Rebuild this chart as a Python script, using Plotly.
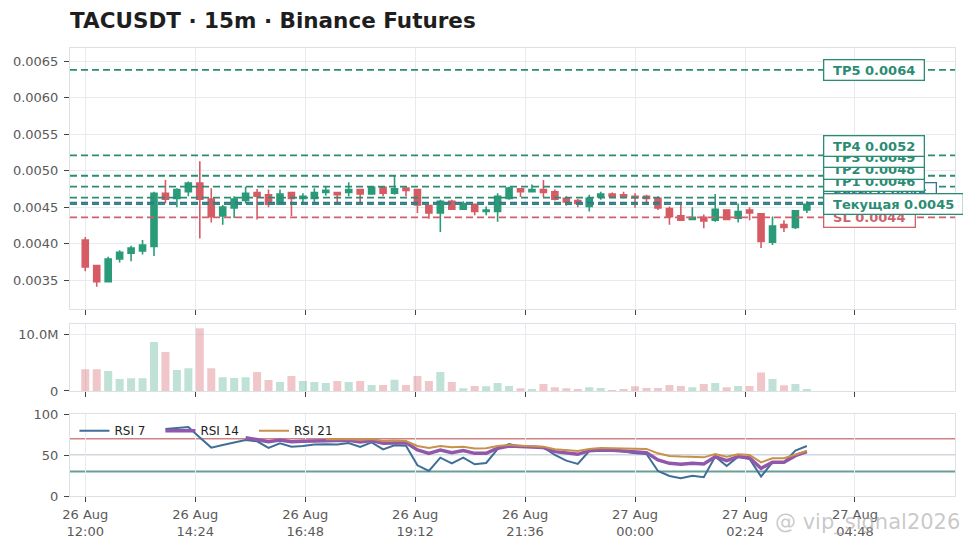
import pandas as pd
import plotly.graph_objects as go
from plotly.subplots import make_subplots

TITLE = "TACUSDT · 15m · Binance Futures"
START = "2025-08-26 12:00"

# 15m candles
OPEN = [0.00405, 0.00370, 0.00348, 0.00379, 0.00387, 0.00390, 0.00396, 0.00469, 0.00462, 0.00471,
        0.00483, 0.00461, 0.00438, 0.00449, 0.00459, 0.00470, 0.00467, 0.00454, 0.00470, 0.00462,
        0.00462, 0.00470, 0.00470, 0.00470, 0.00474, 0.00468, 0.00477, 0.00469, 0.00476, 0.00474,
        0.00452, 0.00442, 0.00458, 0.00447, 0.00454, 0.00444, 0.00444, 0.00462, 0.00475, 0.00471,
        0.00474, 0.00471, 0.00462, 0.00459, 0.00451, 0.00464, 0.00468, 0.00467, 0.00465, 0.00465,
        0.00462, 0.00448, 0.00438, 0.00433, 0.00436, 0.00432, 0.00446, 0.00435, 0.00446, 0.00441,
        0.00402, 0.00426, 0.00422, 0.00446]
HIGH = [0.00409, 0.00370, 0.00382, 0.00391, 0.00397, 0.00405, 0.00471, 0.00487, 0.00476, 0.00485,
        0.00513, 0.00476, 0.00453, 0.00465, 0.00478, 0.00475, 0.00474, 0.00474, 0.00470, 0.00469,
        0.00476, 0.00479, 0.00470, 0.00484, 0.00474, 0.00478, 0.00477, 0.00494, 0.00476, 0.00474,
        0.00452, 0.00460, 0.00460, 0.00458, 0.00455, 0.00451, 0.00469, 0.00478, 0.00475, 0.00481,
        0.00487, 0.00474, 0.00465, 0.00461, 0.00467, 0.00471, 0.00470, 0.00471, 0.00469, 0.00467,
        0.00465, 0.00451, 0.00454, 0.00450, 0.00440, 0.00468, 0.00447, 0.00455, 0.00450, 0.00441,
        0.00437, 0.00432, 0.00446, 0.00458]
LOW = [0.00362, 0.00341, 0.00348, 0.00374, 0.00376, 0.00385, 0.00383, 0.00455, 0.00450, 0.00465,
       0.00407, 0.00429, 0.00426, 0.00435, 0.00455, 0.00433, 0.00450, 0.00453, 0.00438, 0.00454,
       0.00455, 0.00466, 0.00454, 0.00465, 0.00455, 0.00467, 0.00465, 0.00467, 0.00465, 0.00442,
       0.00434, 0.00416, 0.00447, 0.00447, 0.00439, 0.00439, 0.00430, 0.00460, 0.00464, 0.00470,
       0.00464, 0.00459, 0.00452, 0.00450, 0.00444, 0.00460, 0.00463, 0.00462, 0.00449, 0.00454,
       0.00446, 0.00426, 0.00432, 0.00433, 0.00421, 0.00430, 0.00432, 0.00429, 0.00432, 0.00394,
       0.00398, 0.00416, 0.00420, 0.00442]
CLOSE = [0.00368, 0.00348, 0.00379, 0.00388, 0.00394, 0.00398, 0.00469, 0.00461, 0.00474, 0.00483,
         0.00461, 0.00437, 0.00450, 0.00461, 0.00469, 0.00465, 0.00454, 0.00468, 0.00462, 0.00465,
         0.00470, 0.00473, 0.00467, 0.00474, 0.00468, 0.00477, 0.00469, 0.00475, 0.00473, 0.00453,
         0.00442, 0.00458, 0.00447, 0.00455, 0.00444, 0.00446, 0.00465, 0.00476, 0.00471, 0.00474,
         0.00470, 0.00461, 0.00457, 0.00455, 0.00462, 0.00468, 0.00465, 0.00465, 0.00463, 0.00462,
         0.00449, 0.00437, 0.00432, 0.00436, 0.00431, 0.00447, 0.00433, 0.00444, 0.00442, 0.00403,
         0.00424, 0.00422, 0.00445, 0.00454]
VOLUME_M = [3.82, 3.82, 3.53, 2.12, 2.24, 2.24, 8.65, 6.88, 3.71, 4.00,
            11.06, 4.00, 2.41, 2.29, 2.41, 3.35, 1.94, 1.59, 2.65, 1.76,
            1.59, 1.41, 1.76, 1.59, 1.76, 1.06, 1.06, 2.00, 1.06, 2.65,
            1.76, 3.35, 1.59, 0.47, 0.88, 0.85, 1.41, 0.88, 0.47, 0.35,
            1.24, 0.65, 0.47, 0.35, 0.65, 0.53, 0.18, 0.35, 0.82, 0.53,
            0.53, 1.06, 0.88, 0.65, 1.24, 1.41, 0.65, 0.88, 0.88, 3.24,
            2.12, 1.00, 1.24, 0.35]

RSI7 = [None] * 7 + [
    82.0, 83.3, 84.5, 71.5, 59.2, 62.4, 65.7, 68.6, 66.9, 58.8,
    64.5, 60.4, 61.2, 62.9, 63.3, 62.9, 64.9, 60.0, 65.7, 57.1,
    62.0, 61.6, 37.6, 30.6, 46.9, 40.0, 46.9, 38.8, 40.4, 57.5,
    63.7, 60.4, 60.4, 59.6, 50.2, 43.3, 39.2, 55.1, 57.1, 56.3,
    54.3, 52.2, 51.4, 30.6, 24.5, 21.6, 24.9, 22.9, 48.2, 36.7,
    48.2, 45.3, 23.7, 41.2, 41.2, 55.5, 61.2]
RSI14 = [None] * 14 + [
    71.4, 69.4, 66.5, 68.6, 66.5, 66.9, 67.3, 67.8, 67.8, 68.2,
    66.1, 67.8, 64.5, 65.3, 65.3, 56.3, 52.2, 56.3, 53.1, 55.5,
    52.2, 52.2, 58.4, 61.2, 60.4, 60.0, 59.2, 54.3, 52.2, 51.0,
    55.5, 56.3, 55.9, 54.7, 53.9, 53.1, 44.1, 40.0, 38.8, 40.0,
    39.2, 48.2, 43.3, 48.2, 46.5, 33.9, 41.2, 41.2, 49.4, 54.3]
RSI21 = [None] * 21 + [
    69.4, 69.4, 69.8, 68.6, 69.8, 67.3, 67.8, 67.3, 61.2, 58.8,
    61.2, 59.6, 60.4, 58.0, 58.4, 61.2, 62.4, 61.6, 61.2, 60.4,
    57.1, 55.9, 55.1, 57.6, 58.8, 58.4, 58.0, 57.6, 57.6, 52.2,
    49.0, 48.2, 48.2, 47.3, 51.4, 48.2, 51.0, 50.2, 41.2, 46.1,
    46.1, 50.2, 55.1]

# trade levels
LEVEL_NAMES = ["TP5", "TP4", "TP3", "TP2", "TP1", "Entry", "SL"]
LEVEL_PRICES = [0.00638, 0.00521, 0.00493, 0.00478, 0.00463, 0.00456, 0.00436]
CURRENT_NAME = "Текущая"

TICK_TIMES = ["2025-08-26 12:00", "2025-08-26 14:24", "2025-08-26 16:48", "2025-08-26 19:12",
              "2025-08-26 21:36", "2025-08-27 00:00", "2025-08-27 02:24", "2025-08-27 04:48"]
TICK_TEXT = ["26 Aug<br>12:00", "26 Aug<br>14:24", "26 Aug<br>16:48", "26 Aug<br>19:12",
             "26 Aug<br>21:36", "27 Aug<br>00:00", "27 Aug<br>02:24", "27 Aug<br>04:48"]

GREEN = "#2a9b78"
RED = "#d65b65"
TP_COLOR = "#2b8c73"
ENTRY_COLOR = "#3a6e9b"
SL_COLOR = "#d0616a"
GRID = "#e7ebef"
FRAME = "#dce1e6"
TICK_FONT = dict(family="DejaVu Sans", size=13, color="#5a5a5a")

times = pd.date_range(START, periods=len(CLOSE), freq="15min")
up = [c >= o for o, c in zip(OPEN, CLOSE)]

fig = make_subplots(rows=3, cols=1, shared_xaxes=True)

fig.add_trace(go.Candlestick(
    x=times, open=OPEN, high=HIGH, low=LOW, close=CLOSE,
    increasing=dict(line=dict(color=GREEN, width=1.6), fillcolor=GREEN),
    decreasing=dict(line=dict(color=RED, width=1.6), fillcolor=RED),
    whiskerwidth=0, showlegend=False, hoverinfo="skip"), row=1, col=1)

fig.add_trace(go.Bar(
    x=times, y=[v * 1e6 for v in VOLUME_M], width=0.7 * 15 * 60 * 1000,
    marker=dict(color=["rgba(42,154,120,0.3)" if u else "rgba(214,91,101,0.35)" for u in up],
                line=dict(width=0)),
    showlegend=False, hoverinfo="skip"), row=2, col=1)

# RSI guide lines
for lvl, col, w in [(70, "#cf8383", 1.6), (50, "#a3adb5", 1.2), (30, "#6a9f98", 1.8)]:
    fig.add_shape(type="line", xref="x3 domain", x0=0, x1=1, yref="y3", y0=lvl, y1=lvl,
                  line=dict(color=col, width=w), layer="below")

pad = "\u00a0\u00a0\u2009"
for name, vals, col, w in [("RSI 7", RSI7, "#3f6f98", 2.0),
                           ("RSI 14", RSI14, "#9157ab", 3.5),
                           ("RSI 21", RSI21, "#c8914a", 2.0)]:
    fig.add_trace(go.Scatter(x=times, y=vals, mode="lines", name=name + pad,
                             line=dict(color=col, width=w), hoverinfo="skip"), row=3, col=1)

# price levels + labels
current = CLOSE[-1]
levels = [(n, p) for n, p in zip(LEVEL_NAMES, LEVEL_PRICES)] + [(CURRENT_NAME, current)]


def level_color(name):
    if name.startswith("TP") or name == CURRENT_NAME:
        return TP_COLOR
    if name == "Entry":
        return ENTRY_COLOR
    return SL_COLOR


for name, price in levels:
    fig.add_shape(type="line", xref="x domain", x0=0, x1=1, yref="y", y0=price, y1=price,
                  line=dict(color=level_color(name), width=1.8, dash="7px,4px"))

# push labels up so they don't sit on top of each other
gap = 0.00016
placed = []
prev = None
for name, price in sorted(levels, key=lambda t: t[1]):
    pos = price if prev is None else max(price, prev + gap)
    placed.append((name, price, pos))
    prev = pos
placed = [t for t in placed if t[0] != CURRENT_NAME] + [t for t in placed if t[0] == CURRENT_NAME]

for name, price, pos in placed:
    col = level_color(name)
    fig.add_annotation(
        x=0.8505, xref="paper", xanchor="left", y=pos, yref="y", yanchor="middle",
        text=f"\u2002<b>{name} {price:.4f}</b>\u2002", showarrow=False,
        font=dict(family="DejaVu Sans", size=13, color=col),
        bgcolor="white", bordercolor=col, borderwidth=1.3, borderpad=2.3)

fig.add_annotation(x=1.008, xref="paper", xanchor="right", y=-0.06, yref="paper", yanchor="middle",
                   text="@ vip_signal2026", showarrow=False,
                   font=dict(family="DejaVu Sans", size=21, color="rgba(165,165,165,0.6)"))

x_range = [times[0] - pd.Timedelta(minutes=20), times[-1] + pd.Timedelta(minutes=194)]
for i in (1, 2, 3):
    fig.update_xaxes(row=i, col=1, range=x_range, showgrid=True, gridcolor=GRID,
                     tickvals=pd.to_datetime(TICK_TIMES), ticktext=TICK_TEXT,
                     ticks="outside", ticklen=5, tickcolor="#444", ticklabelstandoff=1,
                     showline=True, mirror=True, linecolor=FRAME, linewidth=1, automargin=False,
                     tickfont=TICK_FONT, rangeslider_visible=False, zeroline=False)

fig.update_yaxes(row=1, col=1, range=[0.0031, 0.00668], dtick=0.0005, tickformat=".4f")
fig.update_yaxes(row=2, col=1, range=[0, 11.76e6], tickvals=[0, 10e6], ticktext=["0", "10.0M"])
fig.update_yaxes(row=3, col=1, range=[0, 100], tickvals=[0, 50, 100])
fig.update_yaxes(showgrid=True, gridcolor=GRID, ticks="outside", ticklen=5, tickcolor="#444",
                 ticklabelstandoff=3, showline=True, mirror=True, linecolor=FRAME, linewidth=1,
                 automargin=False, tickfont=TICK_FONT, zeroline=False)

# page has an 8px body margin, so the figure is sized to fit inside it
fig.update_layout(
    width=955, height=532,
    margin=dict(l=62, r=8, t=40, b=44),
    paper_bgcolor="white", plot_bgcolor="white",
    title=dict(text=f"<b>{TITLE}</b>", x=0.065, xanchor="left", xref="container",
               y=0.977, yanchor="middle", yref="container",
               font=dict(family="DejaVu Sans", size=21.5, color="#1e1e1e")),
    yaxis=dict(domain=[0.4167, 1.0]),
    yaxis2=dict(domain=[0.2344, 0.3833]),
    yaxis3=dict(domain=[0.0, 0.1824]),
    legend=dict(orientation="h", x=0.005, xanchor="left", y=0.178, yanchor="top",
                bgcolor="rgba(0,0,0,0)", font=dict(family="DejaVu Sans", size=12, color="#222"),
                itemwidth=30, tracegroupgap=0),
    boxgap=0.25,
    showlegend=True,
)

fig.write_html("out.html")
